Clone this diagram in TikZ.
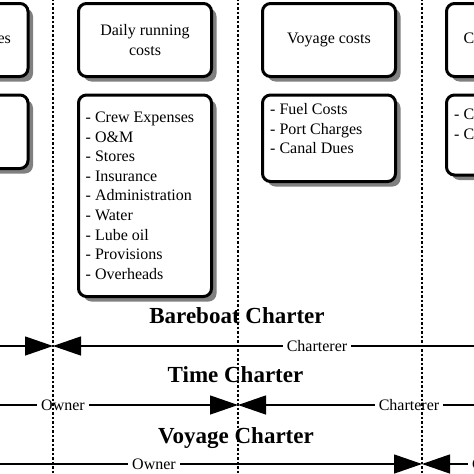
\documentclass[tikz,border=0pt]{standalone}
\usepackage{fontspec}
\setmainfont{Liberation Serif}
\usetikzlibrary{shadows,arrows.meta}
\begin{document}
\begin{tikzpicture}[x=1pt,y=-1pt,
 box/.style={draw, line width=3pt, rounded corners=8pt, fill=white, minimum width=133pt,
   drop shadow={shadow xshift=5pt,shadow yshift=-5pt,fill=black!50,opacity=1},
   inner sep=0pt, font=\fontsize{16}{20}\selectfont, align=center},
 list/.style={anchor=north west, inner sep=0pt, align=left, font=\fontsize{16}{19.6}\selectfont},
 title/.style={font=\fontsize{23}{27}\selectfont\bfseries, anchor=base, inner sep=0pt},
 lab/.style={fill=white, inner xsep=4pt, inner ysep=1pt, font=\fontsize{16}{19}\selectfont},
 conn/.style={line width=1.3pt, -{Triangle[length=28pt,width=19pt]}},
 divider/.style={line width=1.3pt, dash pattern=on 2.5pt off 2pt}]
\clip (0,0) rectangle (474,474);
\fill[white] (0,0) rectangle (474,474);
% top boxes
\node[box, minimum height=73pt] (cap) at (-38.5,40) {Capital charges};
\node[box, minimum height=73pt] (run) at (145,40) {Daily running\\costs};
\node[box, minimum height=73pt] (voy) at (329,40) {Voyage costs};
\node[box, minimum height=73pt] (cgo) at (513,40) {Cargo handling};
% lower boxes
\node[box, minimum height=73.5pt] (capL) at (-38.5,131.75) {};
\node[box, minimum height=201.5pt] (runL) at (145,195.75) {};
\node[box, minimum height=86.5pt] (voyL) at (329,138.25) {};
\node[box, minimum height=80pt] (cgoL) at (513,135) {};
% lists
\node[list] (runT) at (85.5,108.5) {\strut- Crew Expenses\\- O\&M\\- Stores\\- Insurance\\- Administration\\- Water\\- Lube oil\\- Provisions\\- Overheads};
\node[list] (voyT) at (270,100.8) {\strut- Fuel Costs\\- Port Charges\\- Canal Dues};
\node[list] (cgoT) at (454,105.8) {\strut- Cargo loading\\- Cargo discharge};
% titles
\node[title] (bb) at (237,323.5) {Bareboat Charter};
\node[title] (tc) at (235.5,382) {Time Charter};
\node[title] (vc) at (236,443) {Voyage Charter};
% bareboat
\coordinate (bbL) at (-5,346); \coordinate (bbM) at (53,346); \coordinate (bbR) at (480,346);
\draw[conn] (bbL) -- (bbM);
\draw[conn] (bbR) -- (bbM);
\node[lab] (bbC) at (317,346) {Charterer};
% time
\coordinate (tcL) at (-5,405); \coordinate (tcM) at (238,405); \coordinate (tcR) at (480,405);
\draw[conn] (tcL) -- (tcM);
\draw[conn] (tcR) -- (tcM);
\node[lab] (tcO) at (63,405) {Owner};
\node[lab] (tcC) at (409,405) {Charterer};
% voyage
\coordinate (vcL) at (-5,464); \coordinate (vcM) at (422,464); \coordinate (vcR) at (480,464);
\draw[conn] (vcL) -- (vcM);
\draw[conn] (vcR) -- (vcM);
\node[lab] (vcO) at (154,464) {Owner};
\node[lab, anchor=west] (vcC) at (468,464) {Charterer};
% dividers
\coordinate (d1t) at (53,-2); \coordinate (d1b) at (53,476);
\coordinate (d2t) at (238,-2); \coordinate (d2b) at (238,476);
\coordinate (d3t) at (422,-2); \coordinate (d3b) at (422,476);
\draw[divider] (d1t) -- (d1b);
\draw[divider] (d2t) -- (d2b);
\draw[divider] (d3t) -- (d3b);
\end{tikzpicture}
\end{document}
